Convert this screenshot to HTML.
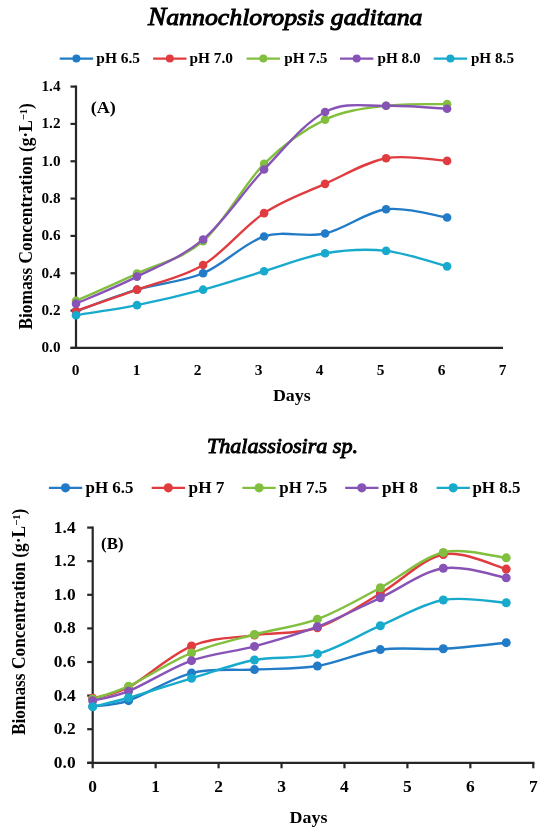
<!DOCTYPE html>
<html><head><meta charset="utf-8"><style>html,body{margin:0;padding:0;background:#fff;}svg{display:block;will-change:transform;}text{font-family:"Liberation Serif",serif;font-weight:bold;fill:#000;}</style></head><body>
<svg width="550" height="835" viewBox="0 0 550 835">
<rect width="550" height="835" fill="#fff"/>
<text x="148.0" y="24.5" font-style="italic" font-size="24.0" textLength="274.5" lengthAdjust="spacingAndGlyphs" style="font-weight:normal" stroke="#000" stroke-width="1.0"><tspan font-size="25.4">N</tspan>annochloropsis gaditana</text>
<line x1="59.7" y1="58.5" x2="93.1" y2="58.5" stroke="#217bc6" stroke-width="2.25"/>
<circle cx="76.4" cy="58.5" r="4.00" fill="#217bc6"/>
<text x="96.3" y="62.8" font-size="15.4" textLength="43.8" lengthAdjust="spacingAndGlyphs">pH 6.5</text>
<line x1="153.1" y1="58.5" x2="186.5" y2="58.5" stroke="#e03c40" stroke-width="2.25"/>
<circle cx="169.8" cy="58.5" r="4.00" fill="#e03c40"/>
<text x="189.5" y="62.8" font-size="15.4" textLength="43.5" lengthAdjust="spacingAndGlyphs">pH 7.0</text>
<line x1="246.6" y1="58.5" x2="280.0" y2="58.5" stroke="#82bf3e" stroke-width="2.25"/>
<circle cx="263.3" cy="58.5" r="4.00" fill="#82bf3e"/>
<text x="284.2" y="62.8" font-size="15.4" textLength="43.2" lengthAdjust="spacingAndGlyphs">pH 7.5</text>
<line x1="340.0" y1="58.5" x2="373.4" y2="58.5" stroke="#8753b6" stroke-width="2.25"/>
<circle cx="356.7" cy="58.5" r="4.00" fill="#8753b6"/>
<text x="377.6" y="62.8" font-size="15.4" textLength="43.0" lengthAdjust="spacingAndGlyphs">pH 8.0</text>
<line x1="433.7" y1="58.5" x2="467.1" y2="58.5" stroke="#17aacd" stroke-width="2.25"/>
<circle cx="450.4" cy="58.5" r="4.00" fill="#17aacd"/>
<text x="470.9" y="62.8" font-size="15.4" textLength="43.1" lengthAdjust="spacingAndGlyphs">pH 8.5</text>
<line x1="76.0" y1="85.5" x2="76.0" y2="347.9" stroke="#262626" stroke-width="2.20"/>
<line x1="70.5" y1="347.9" x2="503.0" y2="347.9" stroke="#262626" stroke-width="2.20"/>
<line x1="70.5" y1="347.90" x2="76.0" y2="347.90" stroke="#262626" stroke-width="2.20"/>
<text x="60.5" y="352.20" font-size="15.2" text-anchor="end">0.0</text>
<line x1="70.5" y1="310.57" x2="76.0" y2="310.57" stroke="#262626" stroke-width="2.20"/>
<text x="60.5" y="314.87" font-size="15.2" text-anchor="end">0.2</text>
<line x1="70.5" y1="273.24" x2="76.0" y2="273.24" stroke="#262626" stroke-width="2.20"/>
<text x="60.5" y="277.54" font-size="15.2" text-anchor="end">0.4</text>
<line x1="70.5" y1="235.91" x2="76.0" y2="235.91" stroke="#262626" stroke-width="2.20"/>
<text x="60.5" y="240.21" font-size="15.2" text-anchor="end">0.6</text>
<line x1="70.5" y1="198.59" x2="76.0" y2="198.59" stroke="#262626" stroke-width="2.20"/>
<text x="60.5" y="202.89" font-size="15.2" text-anchor="end">0.8</text>
<line x1="70.5" y1="161.26" x2="76.0" y2="161.26" stroke="#262626" stroke-width="2.20"/>
<text x="60.5" y="165.56" font-size="15.2" text-anchor="end">1.0</text>
<line x1="70.5" y1="123.93" x2="76.0" y2="123.93" stroke="#262626" stroke-width="2.20"/>
<text x="60.5" y="128.23" font-size="15.2" text-anchor="end">1.2</text>
<line x1="70.5" y1="86.60" x2="76.0" y2="86.60" stroke="#262626" stroke-width="2.20"/>
<text x="60.5" y="90.90" font-size="15.2" text-anchor="end">1.4</text>
<text x="75.50" y="374.5" font-size="15.4" text-anchor="middle">0</text>
<text x="136.50" y="374.5" font-size="15.4" text-anchor="middle">1</text>
<text x="197.50" y="374.5" font-size="15.4" text-anchor="middle">2</text>
<text x="258.50" y="374.5" font-size="15.4" text-anchor="middle">3</text>
<text x="319.50" y="374.5" font-size="15.4" text-anchor="middle">4</text>
<text x="380.50" y="374.5" font-size="15.4" text-anchor="middle">5</text>
<text x="441.50" y="374.5" font-size="15.4" text-anchor="middle">6</text>
<text x="502.50" y="374.5" font-size="15.4" text-anchor="middle">7</text>
<text x="90.7" y="112.8" font-size="16.6" textLength="25.2" lengthAdjust="spacingAndGlyphs">(A)</text>
<text x="272.9" y="400.7" font-size="17.4" textLength="37.8" lengthAdjust="spacingAndGlyphs">Days</text>
<text transform="translate(31.8,329.6) rotate(-90)" font-size="18.0" textLength="226.5" lengthAdjust="spacingAndGlyphs">Biomass Concentration (g&#183;L<tspan font-size="11.0" dy="-5.0">&#8722;1</tspan><tspan dy="5.0">)</tspan></text>
<path d="M76.00,311.32 C86.17,307.71 115.82,296.01 137.00,289.67 C158.18,283.32 181.90,282.11 203.08,273.24 C224.26,264.38 243.75,243.10 264.08,236.47 C284.42,229.85 304.75,238.03 325.08,233.49 C345.42,228.95 365.75,211.90 386.08,209.22 C406.42,206.55 436.92,216.07 447.08,217.44" fill="none" stroke="#217bc6" stroke-width="2.35" stroke-linejoin="round" stroke-linecap="round"/>
<circle cx="76.00" cy="311.32" r="4.30" fill="#217bc6"/>
<circle cx="137.00" cy="289.67" r="4.30" fill="#217bc6"/>
<circle cx="203.08" cy="273.24" r="4.30" fill="#217bc6"/>
<circle cx="264.08" cy="236.47" r="4.30" fill="#217bc6"/>
<circle cx="325.08" cy="233.49" r="4.30" fill="#217bc6"/>
<circle cx="386.08" cy="209.22" r="4.30" fill="#217bc6"/>
<circle cx="447.08" cy="217.44" r="4.30" fill="#217bc6"/>
<path d="M76.00,310.94 C86.17,307.40 115.82,297.32 137.00,289.67 C158.18,282.02 181.90,277.78 203.08,265.03 C224.26,252.28 243.75,226.68 264.08,213.14 C284.42,199.61 304.75,192.99 325.08,183.84 C345.42,174.70 365.75,162.10 386.08,158.27 C406.42,154.44 436.92,160.45 447.08,160.88" fill="none" stroke="#e03c40" stroke-width="2.35" stroke-linejoin="round" stroke-linecap="round"/>
<circle cx="76.00" cy="310.94" r="4.30" fill="#e03c40"/>
<circle cx="137.00" cy="289.67" r="4.30" fill="#e03c40"/>
<circle cx="203.08" cy="265.03" r="4.30" fill="#e03c40"/>
<circle cx="264.08" cy="213.14" r="4.30" fill="#e03c40"/>
<circle cx="325.08" cy="183.84" r="4.30" fill="#e03c40"/>
<circle cx="386.08" cy="158.27" r="4.30" fill="#e03c40"/>
<circle cx="447.08" cy="160.88" r="4.30" fill="#e03c40"/>
<path d="M76.00,300.87 C86.17,296.32 115.82,283.57 137.00,273.62 C158.18,263.66 181.90,259.43 203.08,241.14 C224.26,222.85 243.75,184.12 264.08,163.87 C284.42,143.62 304.75,129.31 325.08,119.64 C345.42,109.96 365.75,108.41 386.08,105.82 C406.42,103.24 436.92,104.42 447.08,104.14" fill="none" stroke="#82bf3e" stroke-width="2.35" stroke-linejoin="round" stroke-linecap="round"/>
<circle cx="76.00" cy="300.87" r="4.30" fill="#82bf3e"/>
<circle cx="137.00" cy="273.62" r="4.30" fill="#82bf3e"/>
<circle cx="203.08" cy="241.14" r="4.30" fill="#82bf3e"/>
<circle cx="264.08" cy="163.87" r="4.30" fill="#82bf3e"/>
<circle cx="325.08" cy="119.64" r="4.30" fill="#82bf3e"/>
<circle cx="386.08" cy="105.82" r="4.30" fill="#82bf3e"/>
<circle cx="447.08" cy="104.14" r="4.30" fill="#82bf3e"/>
<path d="M76.00,303.67 C86.17,299.16 115.82,287.30 137.00,276.60 C158.18,265.90 181.90,257.32 203.08,239.46 C224.26,221.61 243.75,190.72 264.08,169.47 C284.42,148.22 304.75,122.59 325.08,111.98 C345.42,101.38 365.75,106.35 386.08,105.82 C406.42,105.30 436.92,108.31 447.08,108.81" fill="none" stroke="#8753b6" stroke-width="2.35" stroke-linejoin="round" stroke-linecap="round"/>
<circle cx="76.00" cy="303.67" r="4.30" fill="#8753b6"/>
<circle cx="137.00" cy="276.60" r="4.30" fill="#8753b6"/>
<circle cx="203.08" cy="239.46" r="4.30" fill="#8753b6"/>
<circle cx="264.08" cy="169.47" r="4.30" fill="#8753b6"/>
<circle cx="325.08" cy="111.98" r="4.30" fill="#8753b6"/>
<circle cx="386.08" cy="105.82" r="4.30" fill="#8753b6"/>
<circle cx="447.08" cy="108.81" r="4.30" fill="#8753b6"/>
<path d="M76.00,315.24 C86.17,313.56 115.82,309.42 137.00,305.16 C158.18,300.90 181.90,295.33 203.08,289.67 C224.26,284.01 243.75,277.26 264.08,271.19 C284.42,265.12 304.75,256.66 325.08,253.27 C345.42,249.88 365.75,248.67 386.08,250.85 C406.42,253.02 436.92,263.76 447.08,266.34" fill="none" stroke="#17aacd" stroke-width="2.35" stroke-linejoin="round" stroke-linecap="round"/>
<circle cx="76.00" cy="315.24" r="4.30" fill="#17aacd"/>
<circle cx="137.00" cy="305.16" r="4.30" fill="#17aacd"/>
<circle cx="203.08" cy="289.67" r="4.30" fill="#17aacd"/>
<circle cx="264.08" cy="271.19" r="4.30" fill="#17aacd"/>
<circle cx="325.08" cy="253.27" r="4.30" fill="#17aacd"/>
<circle cx="386.08" cy="250.85" r="4.30" fill="#17aacd"/>
<circle cx="447.08" cy="266.34" r="4.30" fill="#17aacd"/>
<text x="207.0" y="452.7" font-style="italic" font-size="20.3" textLength="151.0" lengthAdjust="spacingAndGlyphs" style="font-weight:normal" stroke="#000" stroke-width="0.9">Thalassiosira sp.</text>
<line x1="48.9" y1="487.8" x2="82.2" y2="487.8" stroke="#217bc6" stroke-width="2.25"/>
<circle cx="65.5" cy="487.8" r="4.60" fill="#217bc6"/>
<text x="85.5" y="492.5" font-size="17.5" textLength="48.0" lengthAdjust="spacingAndGlyphs">pH 6.5</text>
<line x1="151.7" y1="487.8" x2="185.0" y2="487.8" stroke="#e03c40" stroke-width="2.25"/>
<circle cx="168.3" cy="487.8" r="4.60" fill="#e03c40"/>
<text x="188.6" y="492.5" font-size="17.5" textLength="35.9" lengthAdjust="spacingAndGlyphs">pH 7</text>
<line x1="242.4" y1="487.8" x2="275.7" y2="487.8" stroke="#82bf3e" stroke-width="2.25"/>
<circle cx="259.1" cy="487.8" r="4.60" fill="#82bf3e"/>
<text x="279.3" y="492.5" font-size="17.5" textLength="48.0" lengthAdjust="spacingAndGlyphs">pH 7.5</text>
<line x1="345.2" y1="487.8" x2="378.5" y2="487.8" stroke="#8753b6" stroke-width="2.25"/>
<circle cx="361.8" cy="487.8" r="4.60" fill="#8753b6"/>
<text x="382.0" y="492.5" font-size="17.5" textLength="36.0" lengthAdjust="spacingAndGlyphs">pH 8</text>
<line x1="436.6" y1="487.8" x2="469.9" y2="487.8" stroke="#17aacd" stroke-width="2.25"/>
<circle cx="453.2" cy="487.8" r="4.60" fill="#17aacd"/>
<text x="472.4" y="492.5" font-size="17.5" textLength="48.0" lengthAdjust="spacingAndGlyphs">pH 8.5</text>
<line x1="92.7" y1="526.5" x2="92.7" y2="762.8" stroke="#262626" stroke-width="2.20"/>
<line x1="87.2" y1="762.8" x2="534.4" y2="762.8" stroke="#262626" stroke-width="2.20"/>
<line x1="87.2" y1="762.80" x2="92.7" y2="762.80" stroke="#262626" stroke-width="2.20"/>
<text x="75.6" y="767.70" font-size="17.4" text-anchor="end">0.0</text>
<line x1="87.2" y1="729.20" x2="92.7" y2="729.20" stroke="#262626" stroke-width="2.20"/>
<text x="75.6" y="734.10" font-size="17.4" text-anchor="end">0.2</text>
<line x1="87.2" y1="695.60" x2="92.7" y2="695.60" stroke="#262626" stroke-width="2.20"/>
<text x="75.6" y="700.50" font-size="17.4" text-anchor="end">0.4</text>
<line x1="87.2" y1="662.00" x2="92.7" y2="662.00" stroke="#262626" stroke-width="2.20"/>
<text x="75.6" y="666.90" font-size="17.4" text-anchor="end">0.6</text>
<line x1="87.2" y1="628.40" x2="92.7" y2="628.40" stroke="#262626" stroke-width="2.20"/>
<text x="75.6" y="633.30" font-size="17.4" text-anchor="end">0.8</text>
<line x1="87.2" y1="594.80" x2="92.7" y2="594.80" stroke="#262626" stroke-width="2.20"/>
<text x="75.6" y="599.70" font-size="17.4" text-anchor="end">1.0</text>
<line x1="87.2" y1="561.20" x2="92.7" y2="561.20" stroke="#262626" stroke-width="2.20"/>
<text x="75.6" y="566.10" font-size="17.4" text-anchor="end">1.2</text>
<line x1="87.2" y1="527.60" x2="92.7" y2="527.60" stroke="#262626" stroke-width="2.20"/>
<text x="75.6" y="532.50" font-size="17.4" text-anchor="end">1.4</text>
<line x1="92.70" y1="762.8" x2="92.70" y2="768.3" stroke="#262626" stroke-width="2.20"/>
<text x="92.70" y="791.8" font-size="17.4" text-anchor="middle">0</text>
<line x1="155.64" y1="762.8" x2="155.64" y2="768.3" stroke="#262626" stroke-width="2.20"/>
<text x="155.64" y="791.8" font-size="17.4" text-anchor="middle">1</text>
<line x1="218.59" y1="762.8" x2="218.59" y2="768.3" stroke="#262626" stroke-width="2.20"/>
<text x="218.59" y="791.8" font-size="17.4" text-anchor="middle">2</text>
<line x1="281.53" y1="762.8" x2="281.53" y2="768.3" stroke="#262626" stroke-width="2.20"/>
<text x="281.53" y="791.8" font-size="17.4" text-anchor="middle">3</text>
<line x1="344.47" y1="762.8" x2="344.47" y2="768.3" stroke="#262626" stroke-width="2.20"/>
<text x="344.47" y="791.8" font-size="17.4" text-anchor="middle">4</text>
<line x1="407.41" y1="762.8" x2="407.41" y2="768.3" stroke="#262626" stroke-width="2.20"/>
<text x="407.41" y="791.8" font-size="17.4" text-anchor="middle">5</text>
<line x1="470.36" y1="762.8" x2="470.36" y2="768.3" stroke="#262626" stroke-width="2.20"/>
<text x="470.36" y="791.8" font-size="17.4" text-anchor="middle">6</text>
<line x1="533.30" y1="762.8" x2="533.30" y2="768.3" stroke="#262626" stroke-width="2.20"/>
<text x="533.30" y="791.8" font-size="17.4" text-anchor="middle">7</text>
<text x="101.1" y="549.1" font-size="16.6" textLength="22.4" lengthAdjust="spacingAndGlyphs">(B)</text>
<text x="289.6" y="822.8" font-size="17.4" textLength="37.9" lengthAdjust="spacingAndGlyphs">Days</text>
<text transform="translate(24.5,735.1) rotate(-90)" font-size="18.0" textLength="226.4" lengthAdjust="spacingAndGlyphs">Biomass Concentration (g&#183;L<tspan font-size="11.0" dy="-5.0">&#8722;1</tspan><tspan dy="5.0">)</tspan></text>
<path d="M92.70,706.35 C98.68,705.40 112.11,706.18 128.58,700.64 C145.05,695.10 170.54,678.27 191.52,673.09 C212.50,667.91 233.48,670.74 254.46,669.56 C275.44,668.38 296.43,669.36 317.41,666.03 C338.39,662.70 359.37,652.45 380.35,649.57 C401.33,646.68 422.31,649.88 443.29,648.73 C464.27,647.58 495.74,643.69 506.23,642.68" fill="none" stroke="#217bc6" stroke-width="2.45" stroke-linejoin="round" stroke-linecap="round"/>
<circle cx="92.70" cy="706.35" r="4.50" fill="#217bc6"/>
<circle cx="128.58" cy="700.64" r="4.50" fill="#217bc6"/>
<circle cx="191.52" cy="673.09" r="4.50" fill="#217bc6"/>
<circle cx="254.46" cy="669.56" r="4.50" fill="#217bc6"/>
<circle cx="317.41" cy="666.03" r="4.50" fill="#217bc6"/>
<circle cx="380.35" cy="649.57" r="4.50" fill="#217bc6"/>
<circle cx="443.29" cy="648.73" r="4.50" fill="#217bc6"/>
<circle cx="506.23" cy="642.68" r="4.50" fill="#217bc6"/>
<path d="M92.70,698.29 C98.68,696.44 112.11,695.91 128.58,687.20 C145.05,678.49 170.54,654.72 191.52,646.04 C212.50,637.36 233.48,638.17 254.46,635.12 C275.44,632.07 296.43,634.67 317.41,627.73 C338.39,620.78 359.37,605.66 380.35,593.46 C401.33,581.25 422.31,558.54 443.29,554.48 C464.27,550.42 495.74,566.66 506.23,569.10" fill="none" stroke="#e03c40" stroke-width="2.45" stroke-linejoin="round" stroke-linecap="round"/>
<circle cx="92.70" cy="698.29" r="4.50" fill="#e03c40"/>
<circle cx="128.58" cy="687.20" r="4.50" fill="#e03c40"/>
<circle cx="191.52" cy="646.04" r="4.50" fill="#e03c40"/>
<circle cx="254.46" cy="635.12" r="4.50" fill="#e03c40"/>
<circle cx="317.41" cy="627.73" r="4.50" fill="#e03c40"/>
<circle cx="380.35" cy="593.46" r="4.50" fill="#e03c40"/>
<circle cx="443.29" cy="554.48" r="4.50" fill="#e03c40"/>
<circle cx="506.23" cy="569.10" r="4.50" fill="#e03c40"/>
<path d="M92.70,698.96 C98.68,696.83 112.11,693.86 128.58,686.19 C145.05,678.52 170.54,661.55 191.52,652.93 C212.50,644.30 233.48,640.08 254.46,634.45 C275.44,628.82 296.43,626.94 317.41,619.16 C338.39,611.38 359.37,598.86 380.35,587.74 C401.33,576.63 422.31,557.45 443.29,552.46 C464.27,547.48 495.74,556.94 506.23,557.84" fill="none" stroke="#82bf3e" stroke-width="2.45" stroke-linejoin="round" stroke-linecap="round"/>
<circle cx="92.70" cy="698.96" r="4.50" fill="#82bf3e"/>
<circle cx="128.58" cy="686.19" r="4.50" fill="#82bf3e"/>
<circle cx="191.52" cy="652.93" r="4.50" fill="#82bf3e"/>
<circle cx="254.46" cy="634.45" r="4.50" fill="#82bf3e"/>
<circle cx="317.41" cy="619.16" r="4.50" fill="#82bf3e"/>
<circle cx="380.35" cy="587.74" r="4.50" fill="#82bf3e"/>
<circle cx="443.29" cy="552.46" r="4.50" fill="#82bf3e"/>
<circle cx="506.23" cy="557.84" r="4.50" fill="#82bf3e"/>
<path d="M92.70,700.64 C98.68,699.07 112.11,697.90 128.58,691.23 C145.05,684.57 170.54,668.13 191.52,660.66 C212.50,653.18 233.48,652.03 254.46,646.38 C275.44,640.72 296.43,634.81 317.41,626.72 C338.39,618.63 359.37,607.57 380.35,597.82 C401.33,588.08 422.31,571.59 443.29,568.26 C464.27,564.92 495.74,576.24 506.23,577.83" fill="none" stroke="#8753b6" stroke-width="2.45" stroke-linejoin="round" stroke-linecap="round"/>
<circle cx="92.70" cy="700.64" r="4.50" fill="#8753b6"/>
<circle cx="128.58" cy="691.23" r="4.50" fill="#8753b6"/>
<circle cx="191.52" cy="660.66" r="4.50" fill="#8753b6"/>
<circle cx="254.46" cy="646.38" r="4.50" fill="#8753b6"/>
<circle cx="317.41" cy="626.72" r="4.50" fill="#8753b6"/>
<circle cx="380.35" cy="597.82" r="4.50" fill="#8753b6"/>
<circle cx="443.29" cy="568.26" r="4.50" fill="#8753b6"/>
<circle cx="506.23" cy="577.83" r="4.50" fill="#8753b6"/>
<path d="M92.70,706.86 C98.68,705.34 112.11,702.54 128.58,697.78 C145.05,693.02 170.54,684.60 191.52,678.30 C212.50,672.00 233.48,664.04 254.46,659.98 C275.44,655.92 296.43,659.65 317.41,653.94 C338.39,648.22 359.37,634.70 380.35,625.71 C401.33,616.72 422.31,603.84 443.29,600.01 C464.27,596.17 495.74,602.25 506.23,602.70" fill="none" stroke="#17aacd" stroke-width="2.45" stroke-linejoin="round" stroke-linecap="round"/>
<circle cx="92.70" cy="706.86" r="4.50" fill="#17aacd"/>
<circle cx="128.58" cy="697.78" r="4.50" fill="#17aacd"/>
<circle cx="191.52" cy="678.30" r="4.50" fill="#17aacd"/>
<circle cx="254.46" cy="659.98" r="4.50" fill="#17aacd"/>
<circle cx="317.41" cy="653.94" r="4.50" fill="#17aacd"/>
<circle cx="380.35" cy="625.71" r="4.50" fill="#17aacd"/>
<circle cx="443.29" cy="600.01" r="4.50" fill="#17aacd"/>
<circle cx="506.23" cy="602.70" r="4.50" fill="#17aacd"/>
</svg></body></html>
